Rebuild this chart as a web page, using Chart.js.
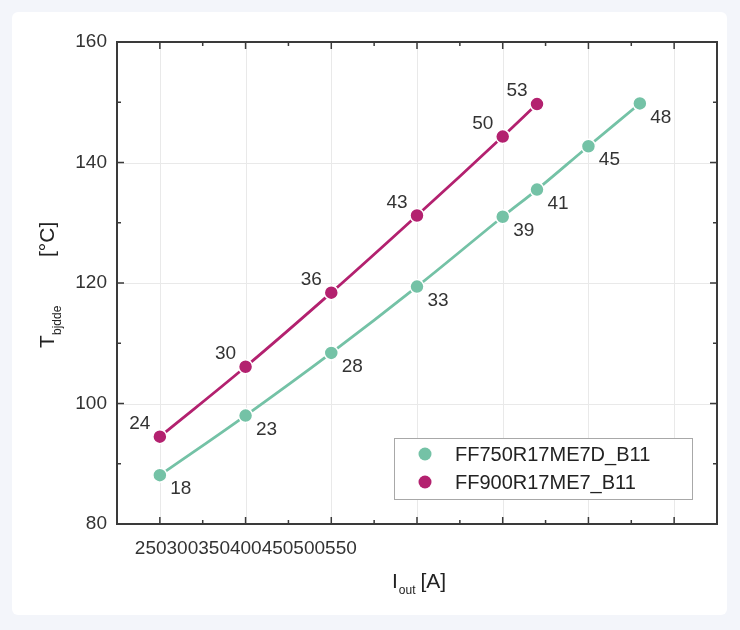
<!DOCTYPE html>
<html>
<head>
<meta charset="utf-8">
<script src="https://cdn.jsdelivr.net/npm/chart.js@4.4.1/dist/chart.umd.min.js"></script>
<style>
  html, body { margin: 0; padding: 0; width: 740px; height: 630px; background: #f3f5fa; overflow: hidden; }
  #card { position: absolute; left: 12px; top: 12px; width: 715px; height: 603px; background: #ffffff; border-radius: 6px; }
  #c { position: absolute; left: 0; top: 0; }
</style>
</head>
<body>
<div id="card"></div>
<canvas id="c" width="740" height="630"></canvas>
<script>
// ---- data ----
const seriesNames = ['FF750R17ME7D_B11', 'FF900R17ME7_B11'];
const currentA = [250, 300, 350, 400, 450, 470, 500, 530];           // I_out [A] (teal)
const tempA    = [88.1, 98.0, 108.4, 119.4, 131.0, 135.5, 142.7, 149.8];
const labelsA  = ['18', '23', '28', '33', '39', '41', '45', '48'];
const currentB = [250, 300, 350, 400, 450, 470];                      // I_out [A] (magenta)
const tempB    = [94.5, 106.1, 118.4, 131.2, 144.3, 149.7];
const labelsB  = ['24', '30', '36', '43', '50', '53'];
const xTickLabels = ['250', '300', '350', '400', '450', '500', '550'];
const yTickValues = [80, 100, 120, 140, 160];

const colA = '#74c2a6';
const colB = '#b3216f';
const FONT = '"Liberation Sans", Arial, sans-serif';
const TXT = '#333333';

const ptsA = currentA.map((x, i) => ({ x: x, y: tempA[i] }));
const ptsB = currentB.map((x, i) => ({ x: x, y: tempB[i] }));

const decor = {
  id: 'decor',
  beforeDatasetsDraw(chart) {
    const { ctx, chartArea: a, scales: { x, y } } = chart;
    ctx.save();
    ctx.strokeStyle = '#e9e9e9';
    ctx.lineWidth = 1;
    xTickLabels.forEach(v => {
      const px = Math.round(x.getPixelForValue(+v)) + 0.5;
      ctx.beginPath(); ctx.moveTo(px, a.top); ctx.lineTo(px, a.bottom); ctx.stroke();
    });
    yTickValues.forEach(v => {
      const py = Math.round(y.getPixelForValue(v)) + 0.5;
      ctx.beginPath(); ctx.moveTo(a.left, py); ctx.lineTo(a.right, py); ctx.stroke();
    });
    ctx.restore();
  },
  afterDraw(chart) {
    const { ctx, chartArea: a, scales: { x, y } } = chart;
    ctx.save();
    // frame
    ctx.strokeStyle = '#3a3a3a';
    ctx.lineWidth = 2;
    ctx.strokeRect(a.left, a.top, a.right - a.left, a.bottom - a.top);
    // ticks (inside, mirrored)
    ctx.lineWidth = 1.5;
    for (let v = 250; v <= 575; v += 25) {
      const px = x.getPixelForValue(v);
      const len = (v % 50 === 0) ? 7 : 4;
      ctx.beginPath();
      ctx.moveTo(px, a.bottom); ctx.lineTo(px, a.bottom - len);
      ctx.moveTo(px, a.top); ctx.lineTo(px, a.top + len);
      ctx.stroke();
    }
    for (let v = 90; v < 160; v += 10) {
      const py = y.getPixelForValue(v);
      const len = (v % 20 === 0) ? 7 : 4;
      ctx.beginPath();
      ctx.moveTo(a.left, py); ctx.lineTo(a.left + len, py);
      ctx.moveTo(a.right, py); ctx.lineTo(a.right - len, py);
      ctx.stroke();
    }
    // crowded x tick labels, as in the reference
    ctx.fillStyle = TXT;
    ctx.font = '19px ' + FONT;
    ctx.textBaseline = 'middle';
    ctx.textAlign = 'left';
    let sx = x.getPixelForValue(+xTickLabels[0]) - 25;
    xTickLabels.forEach(t => { ctx.fillText(t, sx, 549); sx += ctx.measureText(t).width; });

    // data labels
    ctx.font = '19px ' + FONT;
    ctx.textAlign = 'center';
    chart.getDatasetMeta(0).data.forEach((p, i) => ctx.fillText(labelsA[i], p.x + 21, p.y + 14));
    chart.getDatasetMeta(1).data.forEach((p, i) => ctx.fillText(labelsB[i], p.x - 20, p.y - 13));

    // legend
    const lx = a.right - 323, ly = a.bottom - 86, lw = 298, lh = 61;
    ctx.fillStyle = '#ffffff';
    ctx.fillRect(lx, ly, lw, lh);
    ctx.strokeStyle = '#a8a8a8';
    ctx.lineWidth = 1;
    ctx.strokeRect(lx + 0.5, ly + 0.5, lw, lh);
    [colA, colB].forEach((c, i) => {
      const cy = ly + 16 + i * 28;
      ctx.beginPath(); ctx.arc(lx + 31, cy, 6.5, 0, Math.PI * 2);
      ctx.fillStyle = c; ctx.fill();
      ctx.fillStyle = '#222';
      ctx.font = '20px ' + FONT;
      ctx.textAlign = 'left';
      ctx.fillText(seriesNames[i], lx + 61, cy + 1);
    });

    // x title: I_out [A]
    ctx.fillStyle = '#222';
    ctx.textBaseline = 'alphabetic';
    ctx.textAlign = 'left';
    const cx = (a.left + a.right) / 2;
    ctx.font = '21px ' + FONT;
    let tx = cx - 25;
    ctx.fillText('I', tx, 588); tx += ctx.measureText('I').width + 1;
    ctx.font = '12px ' + FONT;
    ctx.fillText('out', tx, 594); tx += ctx.measureText('out').width + 5;
    ctx.font = '21px ' + FONT;
    ctx.fillText('[A]', tx, 588);

    // y title: T_bjdde   [°C]
    ctx.translate(54, (a.top + a.bottom) / 2);
    ctx.rotate(-Math.PI / 2);
    ctx.font = '21px ' + FONT;
    ctx.fillText('T', -65, 0);
    ctx.font = '12px ' + FONT;
    ctx.fillText('bjdde', -52, 7);
    ctx.font = '21px ' + FONT;
    ctx.fillText('[°C]', 26, 0);
    ctx.restore();
  }
};

new Chart(document.getElementById('c'), {
  type: 'line',
  data: {
    datasets: [
      { label: seriesNames[0], data: ptsA, borderColor: colA, backgroundColor: colA,
        borderWidth: 2.8, tension: 0.4, pointRadius: 7, pointBorderColor: '#ffffff',
        pointBorderWidth: 1.5, pointBackgroundColor: colA, fill: false },
      { label: seriesNames[1], data: ptsB, borderColor: colB, backgroundColor: colB,
        borderWidth: 2.8, tension: 0.4, pointRadius: 7, pointBorderColor: '#ffffff',
        pointBorderWidth: 1.5, pointBackgroundColor: colB, fill: false }
    ]
  },
  options: {
    responsive: false,
    animation: false,
    devicePixelRatio: 1,
    layout: { padding: { left: 0, right: 23, top: 42, bottom: 0 } },
    plugins: { legend: { display: false }, tooltip: { enabled: false } },
    scales: {
      x: {
        type: 'linear', min: 225, max: 575,
        grid: { display: false, drawTicks: false }, border: { display: false },
        ticks: { display: false },
        afterFit: s => { s.height = 106; }
      },
      y: {
        min: 80, max: 160,
        grid: { display: false, drawTicks: false }, border: { display: false },
        ticks: { stepSize: 20, padding: 10, color: TXT, font: { family: FONT, size: 19 } },
        afterFit: s => { s.width = 117; }
      }
    }
  },
  plugins: [decor]
});
</script>
</body>
</html>
